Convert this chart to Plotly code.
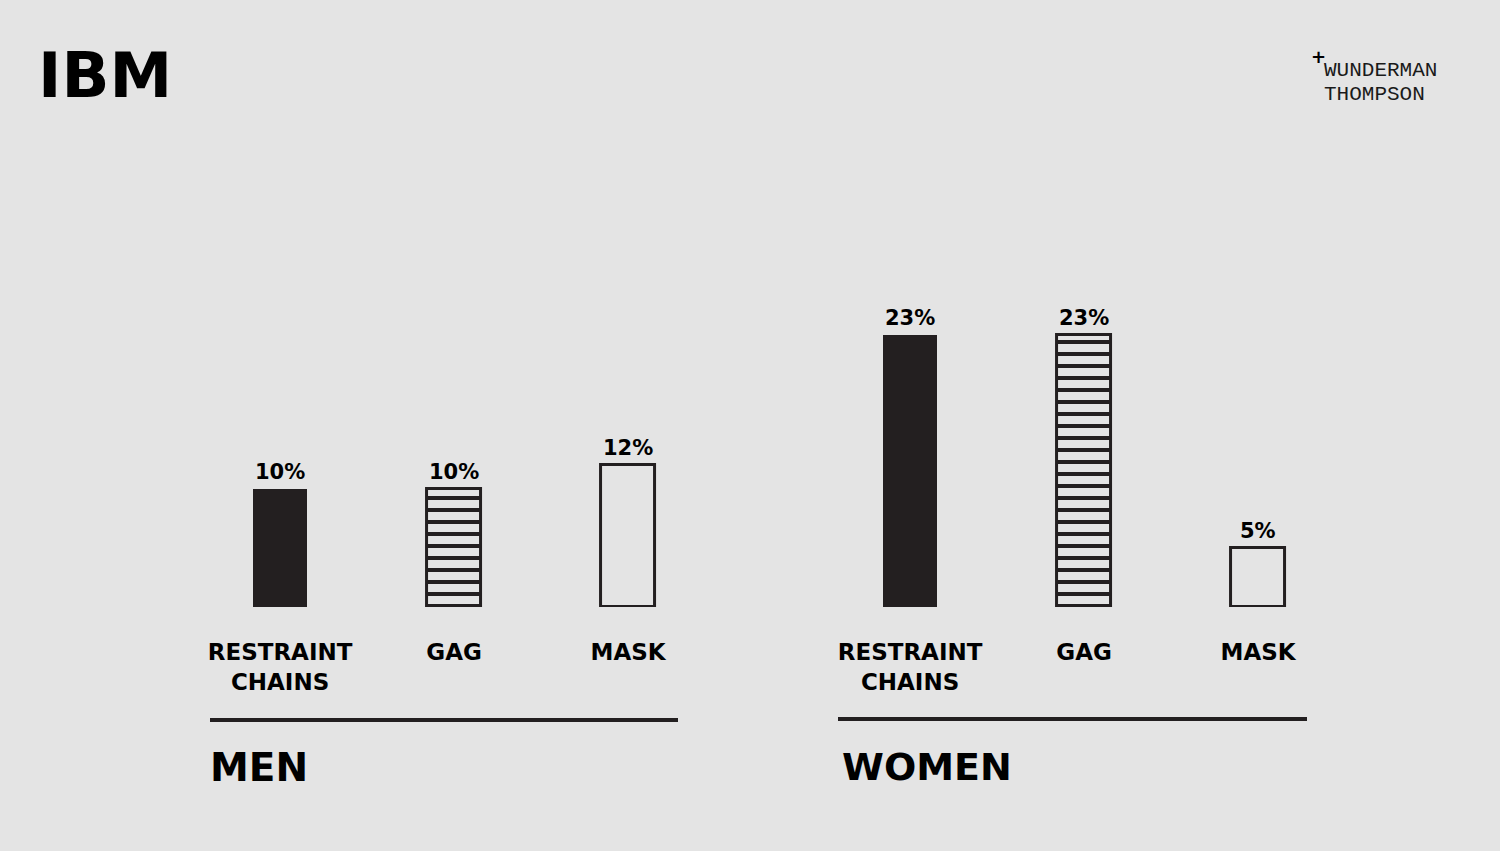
import plotly.graph_objects as go

categories = ["RESTRAINT<br>CHAINS", "GAG", "MASK"]
men_values = [10, 10, 12]
women_values = [23, 23, 5]
value_labels_men = ["10%", "10%", "12%"]
value_labels_women = ["23%", "23%", "5%"]
group_names = ["MEN", "WOMEN"]

BG = "#e4e4e4"
INK = "#231f20"
FONT = "DejaVu Sans"

styles = [
    dict(color=INK, line=dict(color=INK, width=0)),
    dict(color=BG, line=dict(color=INK, width=3),
         pattern=dict(shape="-", fgcolor=INK, fgopacity=1, bgcolor=BG, size=12,
                      solidity=0.33, fillmode="overlay")),
    dict(color=BG, line=dict(color=INK, width=3)),
]

fig = go.Figure()
for i, vals in enumerate([men_values, women_values]):
    xa = "x" if i == 0 else "x2"
    ya = "y" if i == 0 else "y2"
    for j, (c, v) in enumerate(zip(categories, vals)):
        fig.add_trace(go.Bar(
            x=[c], y=[v], xaxis=xa, yaxis=ya, width=0.305,
            marker=styles[j], hoverinfo="skip", showlegend=False,
        ))

for i, (vals, labs) in enumerate([(men_values, value_labels_men), (women_values, value_labels_women)]):
    xa = "x" if i == 0 else "x2"
    ya = "y" if i == 0 else "y2"
    for c, v, t in zip(categories, vals, labs):
        fig.add_annotation(x=c, y=v, xref=xa, yref=ya, text=t, showarrow=False,
                           yanchor="bottom", yshift=3,
                           font=dict(family=FONT, size=21, color="black", weight="bold"))

axis_common = dict(type="category", categoryorder="array", categoryarray=categories,
                   showgrid=False, zeroline=False, showline=False,
                   ticks="", tickfont=dict(family=FONT, size=23, color="black", weight="bold"),
                   ticklabelstandoff=29, fixedrange=True)
yaxis_common = dict(range=[0, 30], visible=False, fixedrange=True)

fig.update_layout(
    width=1500, height=851, margin=dict(l=0, r=0, t=0, b=0),
    paper_bgcolor=BG, plot_bgcolor=BG,
    barmode="overlay",
    xaxis=dict(domain=[0.1287, 0.4767], anchor="y", **axis_common),
    xaxis2=dict(domain=[0.5487, 0.8967], anchor="y2", **axis_common),
    yaxis=dict(domain=[1 - 607 / 851, 1 - 252 / 851], anchor="x", **yaxis_common),
    yaxis2=dict(domain=[1 - 607 / 851, 1 - 252 / 851], anchor="x2", **yaxis_common),
    bargap=0,
)

# group underline rules
fig.add_shape(type="line", xref="paper", yref="paper", x0=210 / 1500, x1=678 / 1500,
              y0=1 - 720 / 851, y1=1 - 720 / 851, line=dict(color=INK, width=4))
fig.add_shape(type="line", xref="paper", yref="paper", x0=838 / 1500, x1=1307 / 1500,
              y0=1 - 719 / 851, y1=1 - 719 / 851, line=dict(color=INK, width=4))

# group labels
fig.add_annotation(x=208 / 1500, y=1 - 767 / 851, xref="paper", yref="paper", text=group_names[0],
                   showarrow=False, xanchor="left", yanchor="middle",
                   font=dict(family=FONT, size=39, color="black", weight="bold"))
fig.add_annotation(x=840 / 1500, y=1 - 767 / 851, xref="paper", yref="paper", text=group_names[1],
                   showarrow=False, xanchor="left", yanchor="middle",
                   font=dict(family=FONT, size=38, color="black", weight="bold"))

# logos
fig.add_annotation(x=36 / 1500, y=1 - 76 / 851, xref="paper", yref="paper", text="IBM",
                   showarrow=False, xanchor="left", yanchor="middle",
                   font=dict(family=FONT, size=63, color="black", weight="bold"))
fig.add_annotation(x=1322 / 1500, y=1 - 71 / 851, xref="paper", yref="paper",
                   text="WUNDERMAN", showarrow=False, xanchor="left", yanchor="middle",
                   font=dict(family="Liberation Mono", size=21, color="#1a1a1a"))
fig.add_annotation(x=1322 / 1500, y=1 - 95 / 851, xref="paper", yref="paper",
                   text="THOMPSON", showarrow=False, xanchor="left", yanchor="middle",
                   font=dict(family="Liberation Mono", size=21, color="#1a1a1a"))
fig.add_annotation(x=1318 / 1500, y=1 - 57 / 851, xref="paper", yref="paper", text="<b>+</b>",
                   showarrow=False, xanchor="center", yanchor="middle",
                   font=dict(family=FONT, size=18, color="black"))

fig.write_html("out.html", config={"displayModeBar": False},
               post_script="document.body.style.margin='0';document.body.style.background='%s';" % BG)
